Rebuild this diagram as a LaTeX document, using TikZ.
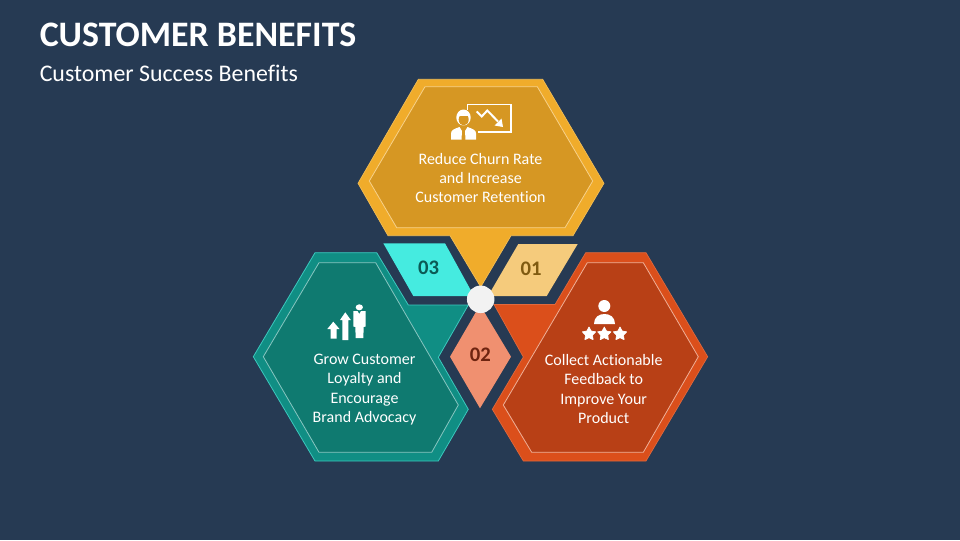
\documentclass[tikz,border=0pt]{standalone}
\usepackage{fontspec}
\setmainfont[Ligatures=NoCommon]{Carlito}
\usetikzlibrary{shapes.geometric}
\definecolor{bgc}{HTML}{263A53}
\definecolor{goldO}{HTML}{F0AC2B}
\definecolor{goldI}{HTML}{D69723}
\definecolor{tealO}{HTML}{108E84}
\definecolor{tealI}{HTML}{0F7A70}
\definecolor{redO}{HTML}{DB4F1B}
\definecolor{redI}{HTML}{B84016}
\definecolor{cyanP}{HTML}{45EBE0}
\definecolor{sandP}{HTML}{F5CB7C}
\definecolor{salmP}{HTML}{F09070}
\definecolor{hubc}{HTML}{F2F2F2}
\definecolor{numT}{HTML}{0B5A55}
\definecolor{numS}{HTML}{7F5A10}
\definecolor{numR}{HTML}{6E2410}
\tikzset{
  body/.style={text=white,align=center,inner sep=0pt,font=\fontsize{12}{14.5}\selectfont},
  num/.style={inner sep=0pt,font=\bfseries\fontsize{15.5}{17}\selectfont},
  ico/.style={fill=white,draw=none},
  starn/.style={star,star points=5,star point ratio=1.9,fill=white,draw=white,line width=0.5pt,line join=round,inner sep=0pt,minimum size=14*0.75pt},
}
\begin{document}
\begin{tikzpicture}[x=0.75pt,y=-0.75pt]
\useasboundingbox (0,0) rectangle (960,540);
\fill[bgc] (0,0) rectangle (960,540);
% title
\node[anchor=west,text=white,inner sep=0pt,font=\bfseries\fontsize{26.9}{30}\selectfont] (title) at (39.5,34.5) {CUSTOMER BENEFITS};
\node[anchor=west,text=white,inner sep=0pt,font=\fontsize{17.9}{20}\selectfont] (subtitle) at (39.5,73) {Customer Success Benefits};
% top
\fill[goldO,draw=goldO!80!white,line width=0.5pt] (418.3,79.3)--(542.7,79.3)--(604,183.3)--(573,235.7)--(511,235.7)--(480.7,287)--(450,235.7)--(388,235.7)--(358,183.3)--cycle;
\fill[goldI,draw=goldO!55!white,line width=0.6pt] (425,86.7)--(537.3,86.7)--(592.7,181)--(565,227.7)--(396.7,227.7)--(369.3,181)--cycle;
% left
\fill[tealO,draw=cyanP!85!black,line width=0.6pt] (315,252.7)--(376.7,252.7)--(408.3,305)--(468.3,305)--(438.3,357.3)--(468.3,409.3)--(438.3,461)--(315,461)--(253.3,356.7)--cycle;
\fill[tealI,draw=tealO!50!white,line width=0.6pt] (319,262.7)--(375.7,262.7)--(458.3,405)--(431.7,452.3)--(319,452.3)--(263.3,356.7)--cycle;
% right
\fill[redO,draw=redO!85!white,line width=0.5pt] (585.7,252.7)--(646,252.7)--(707.7,356.7)--(646,461)--(523.3,461)--(492.3,409.3)--(523.3,357)--(494,304.5)--(555,304.5)--cycle;
\fill[redI,draw=redO!45!white,line width=0.6pt] (587.3,262.7)--(643.3,262.7)--(698.3,356.7)--(643.3,452.3)--(531.7,452.3)--(503.3,405)--cycle;
% number shapes
\fill[cyanP] (383.3,243.3)--(445,243.3)--(474,296)--(413.3,296)--cycle;
\fill[sandP] (518.3,244)--(577.7,244)--(546.7,296)--(488,296)--cycle;
\fill[salmP] (480,305)--(511,356.7)--(480,408.3)--(450,356.7)--cycle;
\node[circle,fill=hubc,inner sep=0pt,minimum size=27.5*0.75pt] (hub) at (480.7,299.3) {};
\node[num,text=numT] (n3) at (428.5,268) {03};
\node[num,text=numS] (n1) at (531,269) {01};
\node[num,text=numR] (n2) at (480.3,355) {02};
% body text
\node[body] (t1) at (480.5,178) {Reduce Churn Rate\\and Increase\\Customer Retention};
\node[body] (t2) at (364.5,389.5) {Grow Customer\\Loyalty and\\Encourage\\Brand Advocacy};
\node[body] (t3) at (603.7,389) {Collect Actionable\\Feedback to\\Improve Your\\Product};
% icon top: presenter and falling chart
\draw[white,line width=1.2pt] (467.4,110)--(467.4,104.4)--(510.7,104.4)--(510.7,132.2)--(477.7,132.2);
\draw[white,line width=1.5pt] (476.7,111.5)--(481.7,116.5)--(487.3,110.5)--(498,121.5);
\fill[white] (503,127)--(494.5,125.5)--(501.5,118.5)--cycle;
\fill[white] (451,139.6)--(451,133.5)..controls (451,130) and (454,129) .. (459.5,127)--(462,131)--(461.5,139.6)--cycle;
\fill[white] (476,139.6)--(476,133.5)..controls (476,130) and (473,129) .. (467.5,127)--(465,131)--(465.5,139.6)--cycle;
\fill[white] (463.5,117.5) ellipse [x radius=7.2,y radius=8];
\fill[goldI] (463.7,119.5) ellipse [x radius=5,y radius=6];
\fill[white] (457.5,117)..controls (459,112) and (467,112) .. (469.5,116)..controls (466,116) and (461,115) .. (457.5,117)--cycle;
% icon left
\fill[ico] (333.3,321.7)--(339.5,329)--(336.7,329)--(336.7,338.5)--(330.7,338.5)--(330.7,329)--(327.3,329)--cycle;
\fill[ico] (345.3,312.3)--(350.8,320)--(348.3,320)--(348.3,340)--(342.3,340)--(342.3,320)--(340,320)--cycle;
\fill[ico] (359.3,307.3) ellipse [x radius=3.6,y radius=3];
\fill[ico] (353.3,311)--(357.5,311)--(359.3,314)--(361,311)--(365.7,311)--(365.7,326.5)--(363.7,327)--(363.3,338)--(355.7,338)--(355.3,327)--(353.3,326.5)--cycle;
% icon right
\fill[ico] (604.3,306) circle [radius=6];
\fill[ico] (594,324)--(615,324)..controls (615,317) and (610,314) .. (604.5,314)..controls (599,314) and (594,317) .. (594,324)--cycle;
\node[starn] (s1) at (589,334) {};
\node[starn] (s2) at (604.3,334) {};
\node[starn] (s3) at (620,334) {};
\end{tikzpicture}
\end{document}
